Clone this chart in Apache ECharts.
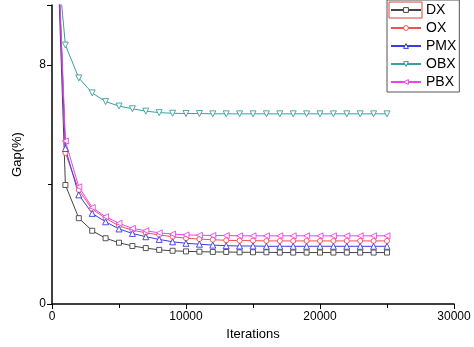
<!DOCTYPE html>
<html><head><meta charset="utf-8">
<script src="https://cdn.jsdelivr.net/npm/echarts@6/dist/echarts.min.js"></script>
<style>html,body{margin:0;padding:0;background:#fff}#c{width:474px;height:347px}</style>
</head><body><div id="c"></div>
<script>
const iterations = [500,1000,2000,3000,4000,5000,6000,7000,8000,9000,10000,11000,12000,13000,14000,15000,16000,17000,18000,19000,20000,21000,22000,23000,24000,25000];
const DX  = [10.6,3.98,2.87,2.45,2.20,2.05,1.94,1.87,1.81,1.78,1.76,1.75,1.74,1.74,1.73,1.73,1.73,1.72,1.72,1.72,1.72,1.72,1.72,1.72,1.72,1.72];
const OX  = [11.0,5.05,3.81,3.17,2.87,2.61,2.47,2.38,2.31,2.25,2.20,2.17,2.15,2.13,2.12,2.12,2.11,2.11,2.11,2.11,2.11,2.11,2.11,2.11,2.11,2.11];
const PMX = [11.0,5.20,3.65,3.03,2.75,2.51,2.36,2.25,2.16,2.08,2.03,2.00,1.97,1.95,1.94,1.94,1.93,1.93,1.93,1.93,1.93,1.93,1.93,1.93,1.93,1.93];
const OBX = [11.1,8.66,7.56,7.06,6.77,6.62,6.53,6.45,6.40,6.38,6.37,6.37,6.36,6.36,6.36,6.36,6.36,6.36,6.36,6.36,6.36,6.36,6.36,6.36,6.36,6.36];
const PBX = [11.2,5.45,3.92,3.23,2.92,2.70,2.53,2.45,2.38,2.34,2.31,2.30,2.29,2.29,2.28,2.28,2.28,2.28,2.28,2.28,2.28,2.28,2.28,2.28,2.28,2.28];
const xTicks = [0,10000,20000,30000];
const yTicks = [0,8];

const chart = echarts.init(document.getElementById('c'));
const font = 'Liberation Sans, Arial, sans-serif';
function mk(name, data, color, symbol, rot, size){
  return {name, type:'line', data: iterations.map((x,i)=>[x,data[i]]),
    symbol, symbolSize:size||6, symbolRotate: rot||0, showAllSymbol:true, clip:true,
    lineStyle:{color, width:1}, itemStyle:{color:'#fff', borderColor:color, borderWidth:0.9},
    emphasis:{disabled:true}, animation:false};
}
chart.setOption({
  animation:false,
  grid:{left:52, right:20, top:5, bottom:43},
  legend:{orient:'vertical', left:387, top:0, padding:[3,3,3,3], itemGap:4, itemWidth:30, itemHeight:6,
    borderColor:'#555', borderWidth:1, backgroundColor:'#fff',
    itemStyle:{color:'#fff', borderColor:'inherit', borderWidth:1},
    textStyle:{fontFamily:font, fontSize:14, color:'#000', lineHeight:14},
    data:['DX','OX','PMX','OBX','PBX']},
  xAxis:{type:'value', min:xTicks[0], max:xTicks[xTicks.length-1], interval:10000,
    name:'Iterations', nameLocation:'middle', nameGap:24,
    nameTextStyle:{fontFamily:font, fontSize:13, color:'#000'},
    axisLine:{lineStyle:{color:'#000', width:1.5}},
    axisTick:{length:5, lineStyle:{color:'#000'}},
    minorTick:{show:true, splitNumber:2, length:4, lineStyle:{color:'#000'}},
    splitLine:{show:false},
    axisLabel:{fontFamily:font, fontSize:12, color:'#000', margin:7, formatter: v => String(v)}},
  yAxis:{type:'value', min:yTicks[0], max:10, interval:8,
    name:'Gap(%)', nameLocation:'middle', nameGap:28,
    nameTextStyle:{fontFamily:font, fontSize:13, color:'#000'},
    axisLine:{show:true, lineStyle:{color:'#000', width:1.5}},
    axisTick:{show:true, length:5, lineStyle:{color:'#000'}},
    minorTick:{show:true, splitNumber:2, length:4, lineStyle:{color:'#000'}},
    splitLine:{show:false},
    axisLabel:{fontFamily:font, fontSize:12, color:'#000', margin:6,
      formatter: v => yTicks.includes(v) ? String(v) : ''}},
  series:[
    mk('DX', DX, '#444444', 'rect', 0, 5),
    mk('OX', OX, '#f05050', 'circle', 0, 5),
    mk('PMX', PMX, '#3a3ae6', 'triangle', 0, 6),
    mk('OBX', OBX, '#3aa0a0', 'triangle', 180, 6),
    mk('PBX', PBX, '#f040f0', 'triangle', 90, 6)
  ],
  graphic:[{type:'rect', shape:{x:389, y:2, width:33, height:16},
    style:{fill:'none', stroke:'#e04040', lineWidth:1}, z:200}]
});
</script></body></html>
